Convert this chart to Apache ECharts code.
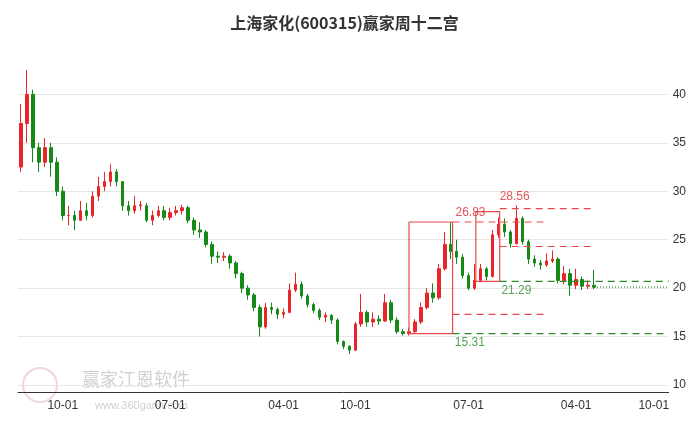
<!DOCTYPE html>
<html><head><meta charset="utf-8">
<script src="https://cdn.jsdelivr.net/npm/echarts@6/dist/echarts.min.js"></script>
<style>html,body{margin:0;padding:0;background:#fff}#c{width:689px;height:427px}</style>
</head><body><div id="c"></div>
<script>
// [open, close, low, high]
var candles = [
[32.5,37,32,39],[37,40,35,42.5],[40,34.5,33,40.5],[34.5,33,32,35],[33,34.5,32.5,35.5],
[34.5,33,31.5,35],[33,30,29.5,33.5],[30,27.5,27,30.5],[27.5,27.5,26.5,28.5],[27.5,27,26,28],
[27,28,27,29],[28,27.5,27,28.8],[27.5,29.5,27.3,30],[29.5,30.5,29,31.5],[30.5,31,30,32],
[31,32,30.5,32.8],[32,31,30.5,32.3],[31,28.5,28,31],[28.5,28,27.5,29],[28,28.5,27.7,29.5],
[28.5,28.6,28,29],[28.5,27,26.8,28.8],[27,27.5,26.5,28],[27.5,28,27.3,28.5],[28,27.3,27,28.5],
[27.3,27.8,27,28.3],[27.8,28,27.5,28.5],[28,28.3,27.6,28.6],[28.3,27,26.7,28.5],[27,26,25.5,27.3],
[26,25.8,25.2,26.8],[25.8,24.5,24.2,26],[24.5,23.3,22.5,24.8],[23.3,23.2,22.6,23.8],[23.2,23.3,22.8,23.7],
[23.3,22.6,22,23.5],[22.6,21.5,21,22.8],[21.5,20,19.5,21.7],[20,19.3,18.8,20.3],[19.3,18,17.6,19.5],
[18,16,15,18.3],[16,18,15.8,18.5],[18,17.8,17.3,18.5],[17.8,17.3,16.8,18],[17.3,17.5,16.9,17.9],
[17.5,19.8,17.4,20.5],[19.8,20.4,19.6,21.6],[20.4,19.2,18.9,20.7],[19.2,18.3,18,19.4],[18.3,17.7,17.4,18.5],
[17.7,17,16.7,17.9],[17,17.2,16.5,17.5],[17.2,16.7,16.3,17.3],[16.7,14.5,14.2,16.9],[14.5,14,13.7,14.6],
[14,13.6,13.2,14.1],[13.6,16.3,13.5,16.5],[16.3,17.5,16,19.4],[17.5,16.5,16,17.7],[16.5,16.8,16,17.5],
[16.8,16.6,16.2,17.2],[16.6,18.5,16.5,19.4],[18.5,16.7,16.4,18.8],[16.7,15.5,15.3,17],[15.5,15.3,15.1,15.8],
[15.3,15.5,15.1,15.9],[15.5,16.5,15.4,16.8],[16.5,18,16.3,18.5],[18,19.5,17.8,20],[19.5,19,18.5,20.5],
[19,22,18.8,22.5],[22,24.5,21.8,25.8],[24.5,23.8,23,26.8],[23.8,23.2,22.5,25],[23.2,21.3,21,23.5],
[21.3,20,19.8,21.6],[20,20.8,19.8,22.5],[20.8,22,20.6,22.5],[22,21.2,20.8,22.2],[21.2,25.5,21.1,26],
[25.5,26.6,25.2,27.3],[26.6,25.8,25.3,27.2],[25.8,24.6,24.2,26],[24.6,27.2,24.5,28.56],[27.2,24.8,24.5,27.4],
[24.8,23,22.5,25],[23,22.6,22.2,23.4],[22.6,22.4,21.9,22.9],[22.4,22.8,22.2,23.6],[22.8,23,22.6,23.9],
[23,20.8,20.5,23.2],[20.8,21.5,20.4,22.3],[21.5,20.3,19.2,22],[20.3,20.9,19.9,22],[20.9,20.2,19.8,21.2],
[20.2,20.3,19.9,20.8],[20.3,20.1,19.9,21.9]
];
var totalSlots = 109;
var tickLabels = [[7,'10-01'],[25,'07-01'],[44,'04-01'],[56,'10-01'],[75,'07-01'],[93,'04-01'],[106,'10-01']];
// overlay levels (x in slot index, y in price)
var box1 = [65, 72.3, 26.83, 15.31];
var box2 = [76.2, 80.2, 27.9, 20.7];
var redDash = [[72.3, 88.2, 26.83], [72.3, 88.2, 17.3], [80.2, 96, 28.2], [80.2, 96, 24.3]];
var greenDash = [[72.3, 108.5, 15.31], [80.2, 108.5, 20.7]];
var greenDot = [[96, 108.5, 20.1]];
var marks = [[75.3, 26.83, '26.83', '#e0282e', 'top'], [82.7, 28.56, '28.56', '#e0282e', 'top'],
             [83, 20.7, '21.29', '#2a8a2a', 'bottom'], [75.2, 15.31, '15.31', '#2a8a2a', 'bottom']];

var red = '#e8262a', green = '#168a16';
var cats = [], lbl = {};
for (var i = 0; i < totalSlots; i++) cats.push('d' + i);
tickLabels.forEach(function (t) { lbl[t[0]] = t[1]; });

var series = [{
  type: 'candlestick', data: candles, barWidth: 3,
  itemStyle: { color: red, color0: green, borderColor: red, borderColor0: green, borderWidth: 1 }
}];
function seg(pts, color, type) {
  series.push({ type: 'line', xAxisIndex: 1, data: pts, symbol: 'none', silent: true,
    lineStyle: { color: color, width: 1.2, type: type } });
}
[box1, box2].forEach(function (b) {
  seg([[b[0], b[2]], [b[1], b[2]], [b[1], b[3]], [b[0], b[3]], [b[0], b[2]]], '#e8484c', 'solid');
});
redDash.forEach(function (d) { seg([[d[0], d[2]], [d[1], d[2]]], '#e8484c', [7, 5]); });
greenDash.forEach(function (d) { seg([[d[0], d[2]], [d[1], d[2]]], '#2a8a2a', [7, 5]); });
greenDot.forEach(function (d) { seg([[d[0], d[2]], [d[1], d[2]]], '#2a8a2a', [1, 2]); });
marks.forEach(function (m) {
  series.push({ type: 'scatter', xAxisIndex: 1, symbolSize: 0, silent: true, data: [[m[0], m[1]]],
    label: { show: true, formatter: m[2], position: m[4], distance: 3, color: m[3], fontSize: 12, fontFamily: 'Arial' } });
});

var chart = echarts.init(document.getElementById('c'));
chart.setOption({
  animation: false,
  title: { text: '上海家化(600315)赢家周十二宫', left: 'center', top: 10,
    textStyle: { fontSize: 16, fontWeight: 'bold', color: '#333', fontFamily: 'Noto Sans CJK SC' } },
  grid: { left: 18, right: 19, top: 46, bottom: 42 },
  xAxis: [{
    type: 'category', data: cats, offset: 7,
    axisLine: { lineStyle: { color: '#333' } },
    axisTick: { alignWithLabel: true, interval: function (i) { return lbl[i] !== undefined; }, lineStyle: { color: '#333' } },
    axisLabel: { interval: function (i) { return lbl[i] !== undefined; }, formatter: function (v, i) { return lbl[i] || ''; },
      color: '#333', fontSize: 12, fontFamily: 'Arial' },
    splitLine: { show: false }
  }, {
    type: 'value', min: -0.5, max: totalSlots - 0.5, show: false
  }],
  yAxis: {
    type: 'value', position: 'right', min: 10, max: 45, interval: 5,
    axisLine: { show: false }, axisTick: { show: false },
    axisLabel: { margin: 4, color: '#333', fontSize: 12, fontFamily: 'Arial', formatter: function (v) { return v % 5 === 0 && v < 45 ? v : ''; } },
    splitLine: { showMaxLine: false, lineStyle: { color: '#e6e6e6' } }
  },
  graphic: [
    { type: 'circle', shape: { cx: 40, cy: 385, r: 17 }, style: { fill: 'none', stroke: '#f0d6d6', lineWidth: 2 } },
    { type: 'text', left: 82, top: 370, style: { text: '赢家江恩软件', fontSize: 18, fill: '#d0d0d0', fontFamily: 'Noto Sans CJK SC' } },
    { type: 'text', left: 95, top: 400, style: { text: 'www.360gann.com', fontSize: 11, fill: '#d0d0d0', fontFamily: 'Arial' } }
  ],
  series: series
});
</script></body></html>
